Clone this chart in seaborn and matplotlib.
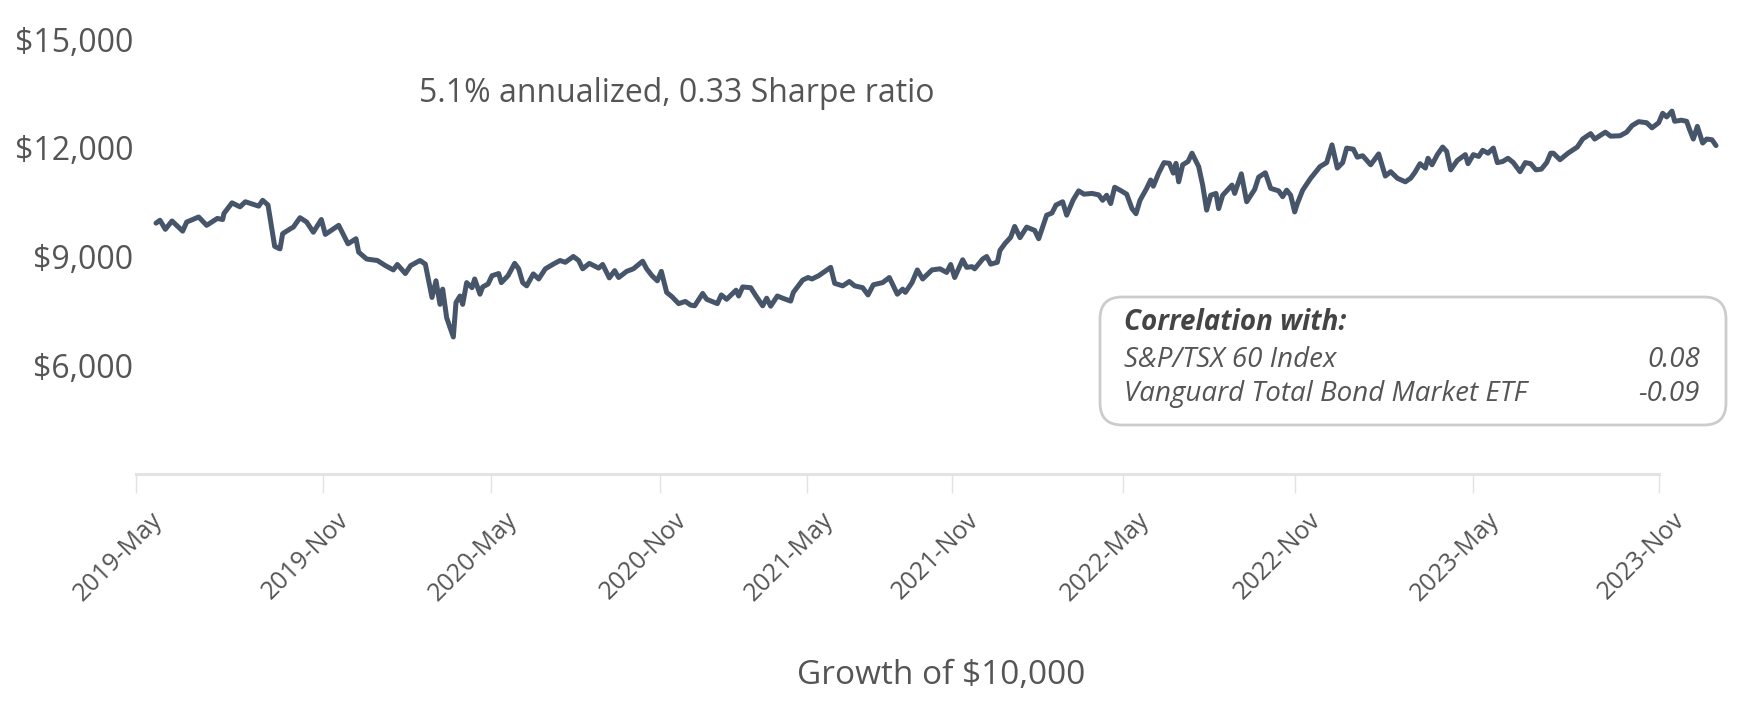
import numpy as np
import pandas as pd
import matplotlib
matplotlib.use("Agg")
import matplotlib.pyplot as plt
import seaborn as sns
from matplotlib.patches import FancyBboxPatch
from matplotlib.transforms import IdentityTransform, ScaledTranslation

# 交易日序号 (trading-day index from first observation) and portfolio value
day = [0, 3, 7, 12, 20, 23, 32, 38, 46, 50, 51, 57, 63, 67, 77, 80, 84, 89, 93, 95,
       101, 103, 108, 113, 118, 124, 127, 137, 144, 150, 152, 158, 166, 172, 178, 181,
       187, 191, 198, 202, 207, 210, 213, 215, 218, 223, 225, 228, 230, 233, 237, 239,
       243, 245, 249, 252, 257, 259, 264, 269, 272, 275, 278, 283, 287, 292, 298, 303,
       307, 313, 317, 320, 325, 332, 335, 340, 344, 347, 353, 358, 365, 368, 372, 376,
       379, 383, 387, 392, 397, 401, 404, 410, 413, 421, 424, 428, 435, 437, 440, 446,
       450, 455, 458, 461, 466, 470, 476, 478, 485, 489, 492, 497, 506, 509, 515, 520,
       524, 530, 534, 538, 545, 550, 556, 560, 562, 567, 571, 575, 582, 588, 593, 596,
       599, 605, 608, 612, 614, 620, 623, 626, 631, 633, 637, 641, 644, 648, 653, 659,
       662, 668, 672, 675, 680, 683, 688, 692, 696, 702, 707, 710, 713, 716, 719, 723,
       728, 732, 735, 738, 743, 746, 748, 752, 756, 760, 763, 765, 767, 770, 774, 777,
       782, 785, 788, 791, 795, 797, 800, 807, 809, 814, 818, 824, 827, 832, 836, 842,
       845, 848, 851, 854, 856, 860, 866, 868, 873, 878, 882, 886, 890, 893, 898, 901,
       905, 911, 917, 922, 926, 931, 937, 941, 944, 948, 952, 954, 957, 961, 965, 968,
       971, 976, 982, 984, 988, 992, 995, 999, 1003, 1006, 1010, 1014, 1018, 1023, 1027,
       1031, 1035, 1039, 1043, 1046, 1048, 1053, 1059, 1066, 1070, 1076, 1079, 1087,
       1091, 1098, 1103, 1107, 1112, 1118, 1122, 1127, 1130, 1133, 1137, 1139, 1144,
       1148, 1150, 1153, 1156, 1160, 1163, 1167, 1170]

value = [9920, 10000, 9750, 9980, 9700, 9950, 10090, 9860, 10050, 10020, 10190, 10480,
         10370, 10510, 10390, 10550, 10420, 9280, 9210, 9630, 9770, 9810, 10070, 9950,
         9670, 10020, 9610, 9860, 9350, 9490, 9120, 8930, 8890, 8750, 8630, 8780, 8530,
         8750, 8890, 8790, 7870, 8330, 7680, 8100, 7310, 6780, 7730, 7910, 7680, 8280,
         8140, 8380, 7960, 8160, 8240, 8470, 8530, 8280, 8470, 8810, 8660, 8280, 8190,
         8520, 8380, 8660, 8790, 8890, 8840, 9000, 8890, 8660, 8810, 8680, 8780, 8410,
         8610, 8420, 8590, 8660, 8870, 8660, 8470, 8330, 8590, 8010, 7890, 7700, 7760,
         7660, 7640, 7980, 7820, 7700, 7940, 7820, 8070, 7910, 8160, 8140, 7910, 7640,
         7850, 7630, 7910, 7850, 7770, 8010, 8350, 8420, 8380, 8470, 8700, 8260, 8190,
         8310, 8190, 8140, 7940, 8220, 8280, 8420, 7960, 8100, 8010, 8280, 8630, 8380,
         8630, 8660, 8560, 8780, 8420, 8910, 8700, 8720, 8660, 8930, 9000, 8790, 8840,
         9170, 9370, 9530, 9830, 9520, 9810, 9720, 9490, 10140, 10200, 10420, 10510,
         10140, 10570, 10810, 10720, 10740, 10700, 10550, 10690, 10460, 10910, 10830,
         10720, 10320, 10180, 10550, 10880, 11110, 10940, 11300, 11590, 11570, 11300,
         11570, 11060, 11530, 11620, 11850, 11480, 10970, 10280, 10690, 10740, 10320,
         10690, 10970, 10740, 11280, 10510, 10850, 11190, 11310, 10880, 10810, 10650,
         10830, 10690, 10230, 10460, 10830, 11160, 11250, 11480, 11590, 12080, 11440,
         11590, 11990, 11960, 11740, 11780, 11530, 11830, 11220, 11340, 11160, 11060,
         11160, 11310, 11560, 11440, 11710, 11530, 11810, 12020, 11900, 11390, 11650,
         11810, 11560, 11810, 11760, 11930, 11850, 11990, 11590, 11620, 11710, 11590,
         11340, 11590, 11560, 11390, 11410, 11590, 11850, 11850, 11670, 11850, 12020,
         12240, 12390, 12240, 12430, 12320, 12330, 12430, 12610, 12720, 12690, 12550,
         12690, 12950, 12850, 13010, 12730, 12760, 12730, 12520, 12240, 12590, 12130,
         12240, 12220, 12060]

tick_days = [-15, 125, 251, 378, 488, 597, 725, 854, 988, 1127]
tick_labels = ["2019-May", "2019-Nov", "2020-May", "2020-Nov", "2021-May",
               "2021-Nov", "2022-May", "2022-Nov", "2023-May", "2023-Nov"]
y_ticks = [6000, 9000, 12000, 15000]

corr_names = ["S&P/TSX 60 Index", "Vanguard Total Bond Market ETF"]
corr_values = ["0.08", "-0.09"]

df = pd.DataFrame({"day": day, "value": value})

sns.set_theme(style="white")
plt.rcParams["font.family"] = ["Open Sans", "DejaVu Sans"]

TEXT = "#555555"
AXIS = "#e3e3e3"

fig = plt.figure(figsize=(17.48, 7.06), dpi=100)
ax = fig.add_axes([136 / 1748, 1 - 474 / 706, (1716 - 136) / 1748, (474 - 39) / 706])

sns.lineplot(data=df, x="day", y="value", ax=ax, color="#465569", linewidth=3.6,
             solid_joinstyle="round", solid_capstyle="round", clip_on=False)

ax.set_xlim(-15, 1170)
ax.set_ylim(3000, 15000)

ax.set_yticks(y_ticks)
ax.set_yticklabels([f"${v:,.0f}" for v in y_ticks], fontsize=23, color=TEXT)
ax.tick_params(axis="y", left=False, length=0, pad=2)

ax.set_xticks(tick_days)
ax.set_xticklabels(tick_labels, rotation=45, ha="right", va="top",
                   rotation_mode="anchor", fontsize=18, color=TEXT)
ax.tick_params(axis="x", bottom=True, length=14, width=1, color=AXIS, pad=10)
offset = ScaledTranslation(14 / 100, 0, fig.dpi_scale_trans)
for lab in ax.get_xticklabels():
    lab.set_transform(lab.get_transform() + offset)

for s in ["left", "right", "top"]:
    ax.spines[s].set_visible(False)
ax.spines["bottom"].set_color(AXIS)
ax.spines["bottom"].set_linewidth(2.2)
ax.spines["bottom"].set_bounds(tick_days[0], tick_days[-1])
ax.set_xlabel("")
ax.set_ylabel("")
ax.grid(False)

fig.text(677 / 1748, 1 - 94 / 706, "5.1% annualized, 0.33 Sharpe ratio",
         ha="center", va="center", fontsize=23, color=TEXT)
fig.text(941 / 1748, 1 - 676 / 706, "Growth of $10,000",
         ha="center", va="center", fontsize=24, color=TEXT)

# correlation box
box = FancyBboxPatch((1100, 706 - 425), 626, 128,
                     boxstyle="round,pad=0,rounding_size=22",
                     transform=IdentityTransform(), facecolor="white",
                     edgecolor="#cccccc", linewidth=2.0, zorder=5)
fig.add_artist(box)
fig.text(1124 / 1748, 1 - 323 / 706, "Correlation with:", ha="left", va="center",
         fontsize=20, fontweight="bold", fontstyle="italic", color="#444444", zorder=6)
for i, (n, v) in enumerate(zip(corr_names, corr_values)):
    yy = 1 - (360 + 34 * i) / 706
    fig.text(1124 / 1748, yy, n, ha="left", va="center", fontsize=20,
             fontstyle="italic", color=TEXT, zorder=6)
    fig.text(1700 / 1748, yy, v, ha="right", va="center", fontsize=20,
             fontstyle="italic", color=TEXT, zorder=6)

fig.savefig("out.png", dpi=100, facecolor="white")
